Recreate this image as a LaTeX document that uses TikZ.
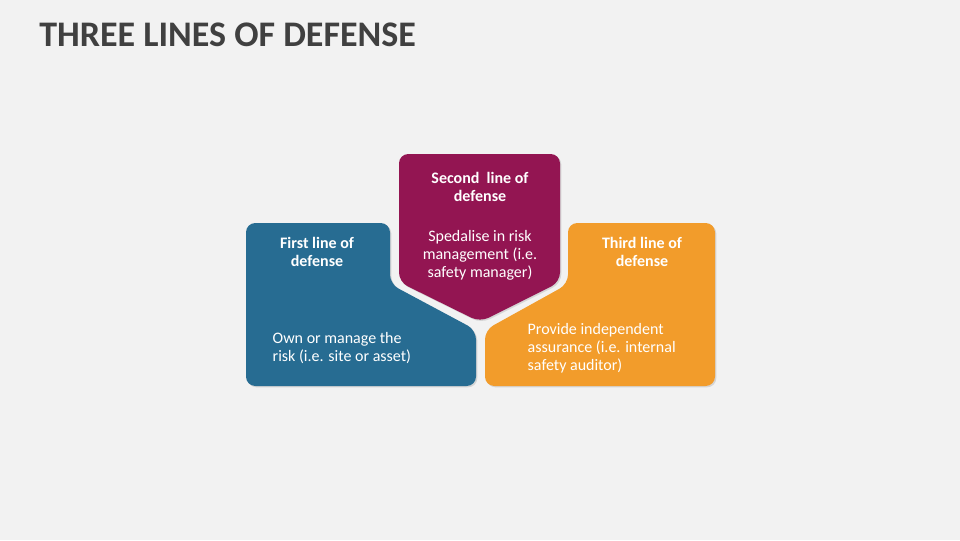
\documentclass[tikz,border=0pt]{standalone}
\usepackage{fontspec}
\setmainfont{Carlito}
\usetikzlibrary{shadows}
\definecolor{bgray}{HTML}{F2F2F2}
\definecolor{tgray}{HTML}{404040}
\definecolor{lineblue}{HTML}{276C92}
\definecolor{linemag}{HTML}{931552}
\definecolor{lineorange}{HTML}{F29C2B}
\tikzset{
  panel/.style={rounded corners=7pt, draw=none, drop shadow={opacity=0.25, shadow xshift=1pt, shadow yshift=-1pt}},
  headtxt/.style={text=white, font=\fontsize{12}{13.5}\selectfont\bfseries, align=center},
  bodytxt/.style={text=white, font=\fontsize{12}{13.5}\selectfont, align=left}
}
\begin{document}
\begin{tikzpicture}[x=0.75pt,y=-0.75pt]
\fill[bgray] (0,0) rectangle (960,540);
\useasboundingbox (0,0) rectangle (960,540);
\node[anchor=west, text=tgray, font=\fontsize{27}{30}\selectfont\bfseries, inner sep=0pt] (title) at (39,35) {THREE LINES OF DEFENSE};
% first line
\fill[lineblue, panel] (246,223) -- (390,223) -- (390,284) -- (476,330) -- (476,386) -- (246,386) -- cycle;
% third line
\fill[lineorange, panel] (715,223) -- (568,223) -- (568,284) -- (485,330) -- (485,386) -- (715,386) -- cycle;
% second line
\fill[linemag, panel] (480,322) -- (399,282) -- (399,154) -- (560,154) -- (560,282) -- cycle;
\node[headtxt] (h1) at (317,252) {First line of\\defense};
\node[bodytxt, anchor=west] (b1) at (268,348) {Own or manage the\\risk (i.e. site or asset)};
\node[headtxt] (h2) at (480,187) {Second\ \ line of\\defense};
\node[headtxt, font=\fontsize{12}{13.5}\selectfont] (b2) at (480,255) {Spedalise in risk\\management (i.e.\\safety manager)};
\node[headtxt] (h3) at (642,252) {Third line of\\defense};
\node[bodytxt, anchor=west] (b3) at (523,348) {Provide independent\\assurance (i.e. internal\\safety auditor)};
\end{tikzpicture}
\end{document}
